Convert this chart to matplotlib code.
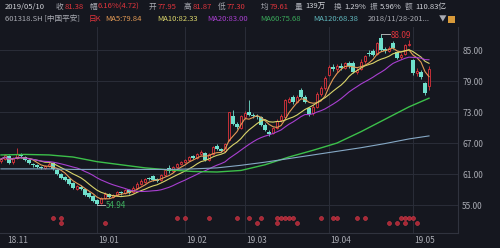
import matplotlib.pyplot as plt
import numpy as np
import pandas as pd

plt.rcParams['font.family'] = ['Noto Sans CJK SC', 'DejaVu Sans']

# daily k-line, 2018/11/28 - 2019/05/10
opens = [63.5, 63.9, 64.4, 63.3, 64.1, 64.7, 64.3, 63.8, 63.0, 62.7, 62.4, 62.1, 62.5, 63.2, 61.8, 61.0,
         60.4, 60.1, 59.2, 58.1, 58.5, 58.2, 57.4, 56.8, 56.0,
         55.4, 56.3, 57.1, 56.5, 57.0, 57.6, 57.3, 58.0, 57.5, 58.4, 59.0, 59.5, 60.2, 60.6, 60.0, 59.8,
         60.8, 62.2, 61.6, 62.3, 62.9,
         63.3, 63.7, 64.5, 64.2, 64.8, 65.0, 63.8, 64.8, 66.5, 65.9, 65.5, 67.6, 72.3, 70.6, 70.0,
         72.0, 73.0, 72.5, 72.3, 72.0, 70.5, 69.2, 68.9, 70.0, 71.4, 72.0, 75.0, 75.9, 75.0, 77.3, 76.0,
         73.8, 72.8, 74.0, 76.4, 77.6,
         80.2, 81.8, 81.3, 82.0, 81.6, 82.4, 82.5, 80.8, 81.4, 82.8, 84.5, 84.9, 84.2, 87.3, 85.2, 84.9,
         86.4, 84.6, 83.6, 84.2, 86.0,
         83.0, 80.6, 80.8, 78.6, 77.95]
closes = [63.9, 64.6, 63.2, 64.1, 64.8, 64.4, 63.7, 63.1, 62.7, 62.3, 62.1, 62.5, 63.0, 61.9, 61.0, 60.3,
          59.8, 59.0, 58.4, 58.6, 58.1, 57.0, 56.5, 55.8, 55.3,
          56.3, 57.2, 56.5, 57.0, 57.5, 57.3, 57.9, 57.4, 58.4, 59.1, 59.6, 60.0, 60.0, 59.9, 59.6, 60.8,
          61.7, 61.5, 62.3, 62.9, 63.3,
          63.8, 64.3, 64.2, 64.9, 65.2, 63.7, 64.8, 66.2, 65.8, 65.4, 66.9, 73.0, 70.6, 70.1, 72.2,
          72.8, 72.4, 72.2, 72.0, 70.5, 69.6, 68.8, 69.9, 71.3, 72.3, 75.3, 75.6, 74.9, 76.0, 75.9, 75.0,
          72.6, 74.0, 76.5, 77.6, 79.6,
          81.7, 81.4, 82.0, 81.6, 82.4, 82.0, 80.7, 81.2, 82.6, 83.8, 84.2, 84.0, 86.3, 85.0, 84.9, 85.3,
          85.4, 83.5, 84.0, 85.9, 86.2,
          80.5, 80.9, 79.8, 76.66, 81.38]
highs = [64.2, 64.9, 64.6, 64.3, 66.0, 65.0, 64.5, 63.9, 63.2, 62.9, 62.6, 62.7, 63.3, 63.4, 62.0, 61.2,
         60.6, 60.3, 59.4, 58.9, 58.8, 58.4, 57.6, 57.0, 56.2,
         56.5, 57.5, 57.4, 57.2, 57.7, 57.8, 58.1, 58.2, 58.6, 59.4, 60.0, 60.3, 60.5, 60.8, 60.2, 61.0,
         61.9, 62.8, 62.5, 63.1, 63.5,
         64.0, 64.5, 64.7, 65.1, 65.6, 65.2, 65.0, 66.4, 66.8, 66.1, 67.1, 73.1, 73.3, 71.0, 72.5,
         73.2, 75.3, 72.8, 72.6, 72.2, 70.8, 69.5, 70.2, 71.6, 72.6, 75.5, 76.0, 76.2, 76.3, 77.6, 76.2,
         74.0, 74.3, 76.8, 78.0, 79.9,
         82.1, 82.3, 82.3, 82.5, 82.7, 82.8, 82.8, 81.6, 83.2, 84.1, 85.0, 85.2, 86.6, 88.09, 85.6, 85.7,
         86.7, 84.9, 84.5, 86.2, 87.0,
         83.3, 81.6, 81.1, 78.9, 81.87]
lows = [63.2, 63.7, 63.0, 63.0, 63.9, 64.1, 63.5, 62.9, 62.4, 62.1, 61.9, 61.9, 62.3, 61.7, 60.8, 60.1,
        59.6, 58.8, 58.2, 57.9, 57.9, 56.8, 56.3, 55.6, 54.94,
        55.2, 56.1, 56.3, 56.3, 56.8, 57.0, 57.1, 57.2, 57.3, 58.2, 58.8, 59.3, 59.8, 59.7, 59.4, 59.6,
        60.6, 61.3, 61.4, 62.1, 62.7,
        63.1, 63.5, 64.0, 64.0, 64.6, 63.5, 63.6, 64.6, 65.6, 65.2, 65.3, 67.4, 70.4, 69.8, 69.8,
        71.7, 72.2, 71.9, 71.6, 70.3, 69.4, 68.3, 68.7, 69.8, 71.1, 71.8, 74.7, 74.6, 74.8, 75.7, 74.7,
        72.3, 72.5, 73.8, 76.1, 77.3,
        80.0, 80.9, 80.8, 81.2, 81.3, 81.6, 80.5, 80.4, 81.2, 82.5, 83.9, 83.8, 84.0, 84.8, 84.5, 84.6,
        85.1, 83.2, 83.2, 84.0, 85.7,
        80.2, 80.0, 79.4, 76.3, 77.30]

# long averages every few sessions
ma_long_days = [0, 6, 12, 18, 24, 30, 36, 42, 48, 54, 60, 66, 72, 78, 84, 90, 96, 102, 107]
ma60 = [64.7, 64.8, 64.7, 64.3, 63.4, 62.8, 62.2, 61.8, 61.5, 61.4, 61.7, 62.8, 64.3, 65.6, 67.0,
        69.2, 71.6, 74.0, 75.68]
ma120 = [62.0, 62.0, 62.0, 61.9, 61.9, 61.9, 61.9, 61.9, 62.0, 62.2, 62.7, 63.3, 64.0, 64.7, 65.4,
         66.1, 66.9, 67.8, 68.38]

month_pos = [0, 24, 46, 61, 82, 103]
month_labels = ['18.11', '19.01', '19.02', '19.03', '19.04', '19.05']
price_ticks = [55, 61, 67, 73, 79, 85]

sig_upper = [13, 15, 44, 46, 52, 59, 62, 65, 69, 70, 71, 72, 73, 80, 83, 84, 89, 91, 100, 101, 102, 103]
sig_lower = [15, 26, 64, 69, 74, 97, 99, 101, 104]

BG = '#15171f'
GRID = '#2a2d38'
RED = '#e0343c'
CYAN = '#6fe0cc'
GRAY = '#a9abb3'
C_MA5 = '#e39a55'
C_MA10 = '#d9d46a'
C_MA20 = '#a83fd0'
C_MA60 = '#3cc04a'
C_MA120 = '#86a9c6'

fig = plt.figure(figsize=(5.0, 2.48), dpi=100, facecolor=BG)
ax = fig.add_axes([0, 15 / 248, 458 / 500, 206 / 248], facecolor=BG)

o = np.array(opens)
c = np.array(closes)
h = np.array(highs)
l = np.array(lows)
x = np.arange(len(c))
up = c >= o

for xi in month_pos[1:]:
    ax.axvline(xi, color=GRID, lw=0.7, zorder=0)
for p in price_ticks:
    ax.axhline(p, color=GRID, lw=0.7, zorder=0)

ax.vlines(x[up], l[up], h[up], color=RED, lw=0.6, zorder=2)
ax.vlines(x[~up], l[~up], h[~up], color=CYAN, lw=0.6, zorder=2)
body_up = np.maximum(c[up] - o[up], 0.15)
body_dn = np.maximum(o[~up] - c[~up], 0.2)
ax.bar(x[up], body_up, bottom=o[up], width=0.72, facecolor=BG, edgecolor=RED, lw=0.6, zorder=2)
ax.bar(x[~up], body_dn, bottom=c[~up], width=0.8, color=CYAN, lw=0, zorder=2)

s = pd.Series(closes)
ax.plot(x, s.rolling(5, min_periods=1).mean(), color=C_MA5, lw=0.8, zorder=3)
ax.plot(x, s.rolling(10, min_periods=1).mean(), color=C_MA10, lw=0.8, zorder=3)
ax.plot(x, s.rolling(20, min_periods=1).mean(), color=C_MA20, lw=0.8, zorder=3)
ax.plot(ma_long_days, ma60, color=C_MA60, lw=1.0, zorder=3)
ax.plot(ma_long_days, ma120, color=C_MA120, lw=0.8, zorder=3)

# signal dots under the candles
ax.plot(sig_upper, [52.5] * len(sig_upper), 'o', ms=2.8, color='#a82635', mec='#d8404c', mew=0.4)
ax.plot(sig_lower, [51.5] * len(sig_lower), 'o', ms=2.8, color='#a82635', mec='#d8404c', mew=0.4)

# high / low tags
hi = int(np.argmax(h))
lo = int(np.argmin(l))
ax.plot([hi, hi + 2.3], [h[hi], h[hi]], color='#c8c8c8', lw=0.6)
ax.text(hi + 2.5, h[hi] - 0.3, f'{h[hi]:.2f}', color=RED, fontsize=5.8, va='center', ha='left')
ax.plot([lo, lo + 2.0], [l[lo], l[lo]], color='#c8c8c8', lw=0.6)
ax.text(lo + 2.2, l[lo], f'{l[lo]:.2f}', color='#3fb060', fontsize=5.8, va='center', ha='left')

ax.set_xlim(-0.25, 114.25)
ax.set_ylim(49.6, 89.45)
ax.set_xticks([])
ax.yaxis.tick_right()
ax.set_yticks(price_ticks)
ax.set_yticklabels([f'{p:.2f}' for p in price_ticks])
ax.tick_params(axis='y', length=0, pad=3, labelsize=6, labelcolor=GRAY)
for side in ['left', 'top']:
    ax.spines[side].set_visible(False)
for side in ['right', 'bottom']:
    ax.spines[side].set_color('#30333e')
    ax.spines[side].set_linewidth(0.8)

for pos, lab in zip(month_pos, month_labels):
    xp = pos + 0.3 if pos else 1.5
    ax.text(xp, -0.034, lab, transform=ax.get_xaxis_transform(), color=GRAY, fontsize=6,
            ha='left', va='center')


def put(px, py, s, color, size=5.5):
    fig.text(px / 500, 1 - py / 248, s, color=color, fontsize=size, ha='left', va='center')


row1 = [(5, '2019/05/10', '#d0d2d8'), (56, '收', GRAY), (65, '81.38', RED), (89, '幅', GRAY),
        (98, '6.16%(4.72)', RED), (149, '开', GRAY), (158, '77.95', RED), (184, '高', GRAY),
        (193, '81.87', RED), (218, '低', GRAY), (227, '77.30', RED), (261, '均', GRAY),
        (270, '79.61', RED), (295, '量', GRAY), (305, '139万', '#d0d2d8'), (334, '换', GRAY),
        (344, '1.29%', '#d0d2d8'), (370, '振', GRAY), (380, '5.96%', '#d0d2d8'), (405, '额', GRAY),
        (415, '110.83亿', '#d0d2d8')]
for px, s_, col in row1:
    put(px, 7, s_, col)

row2 = [(5, '601318.SH [中国平安]', GRAY), (89, '日K', RED), (105, 'MA5:79.84', C_MA5),
        (157, 'MA10:82.33', C_MA10), (207, 'MA20:83.00', C_MA20), (260, 'MA60:75.68', '#3aa85a'),
        (313, 'MA120:68.38', '#5fb7bd'), (368, '2018/11/28-201...', GRAY), (439, '▼', GRAY)]
for px, s_, col in row2:
    put(px, 19, s_, col)
fig.patches.append(plt.Rectangle((448 / 500, 1 - 23 / 248), 7 / 500, 7 / 248, transform=fig.transFigure,
                                 facecolor='#d89a3a', edgecolor='none'))

fig.savefig('out.png', dpi=100, facecolor=BG)
